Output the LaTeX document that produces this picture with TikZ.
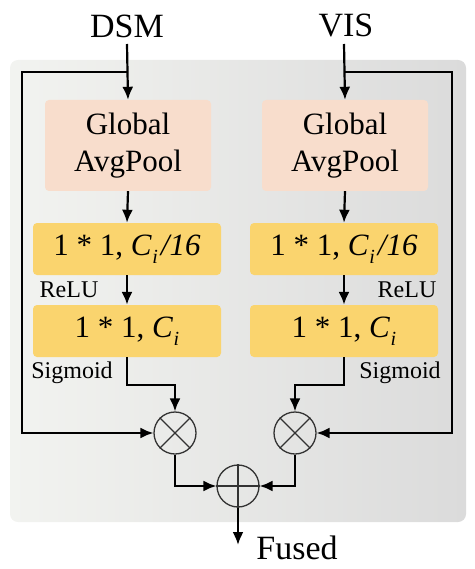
\documentclass[tikz,border=0pt]{standalone}
\usepackage{fontspec}
\setmainfont{Liberation Serif}
\usetikzlibrary{arrows.meta}
\definecolor{peach}{HTML}{F8DDCC}
\definecolor{ylw}{HTML}{FAD46E}
\definecolor{bgl}{HTML}{F2F3F0}
\definecolor{bgr}{HTML}{DBDBDB}
\tikzset{
  gapbox/.style={draw=none,fill=peach,rounded corners=4pt,minimum width=166pt,minimum height=91pt,align=center,font=\fontsize{31}{37}\selectfont},
  convbox/.style={draw=none,fill=ylw,rounded corners=4pt,minimum width=188pt,minimum height=52pt,font=\fontsize{31}{37}\selectfont},
  opcirc/.style={circle,draw=black!80,line width=1.3pt,minimum size=42pt,inner sep=0pt},
  conn/.style={line width=2.2pt,-{Latex[length=13pt,width=11pt]}},
  iotext/.style={font=\fontsize{34}{40}\selectfont},
  acttext/.style={font=\fontsize{24}{28}\selectfont}
}
\newcommand{\Ci}{\textit{C}\kern0.5pt\raisebox{-0.25em}{\fontsize{20}{20}\selectfont\textit{i}}}
\begin{document}
\begin{tikzpicture}[x=1pt,y=-1pt]
\useasboundingbox (0,0) rectangle (474,569);
\shade[left color=bgl,right color=bgr,rounded corners=8pt] (10,60) rectangle (466,522);
% inputs
\node[iotext] (dsm) at (127,26) {DSM};
\node[iotext] (vis) at (346,26) {VIS};
% boxes
\node[gapbox] (gl) at (128,145.5) {Global\\AvgPool};
\node[gapbox] (gr) at (345,145.5) {Global\\AvgPool};
\node[convbox] (c1l) at (127,249) {1 * 1, \Ci\kern3pt\textit{/16}};
\node[convbox] (c1r) at (344,249) {1 * 1, \Ci\kern3pt\textit{/16}};
\node[convbox] (c2l) at (127,331) {1 * 1, \Ci};
\node[convbox] (c2r) at (344,331) {1 * 1, \Ci};
\node[acttext] (relul) at (69,290) {ReLU};
\node[acttext] (relur) at (407,290) {ReLU};
\node[acttext] (sigl) at (72,373) {Sigmoid};
\node[acttext] (sigr) at (400,373) {Sigmoid};
% operators
\node[opcirc] (ml) at (175,433) {};
\node[opcirc] (mr) at (295,433) {};
\node[opcirc] (pl) at (238,486) {};
\draw[black!80,line width=1.3pt] (ml.north west) -- (ml.south east) (ml.north east) -- (ml.south west);
\draw[black!80,line width=1.3pt] (mr.north west) -- (mr.south east) (mr.north east) -- (mr.south west);
\draw[black!80,line width=1.3pt] (pl.north) -- (pl.south) (pl.west) -- (pl.east);
\node[iotext] (fused) at (297,548) {Fused};
\coordinate (out) at (238,545);
\coordinate (bl) at (127,72);
\coordinate (br) at (344,72);
\coordinate (tl) at (127,44);
\coordinate (tr) at (344,44);
% connectors
\draw[conn] (tl) -- (gl.north);
\draw[conn] (tr) -- (gr.north);
\draw[conn] (bl) -| (22,433) -- (ml.west);
\draw[conn] (br) -| (452,433) -- (mr.east);
\draw[conn] (gl.south) -- (c1l.north);
\draw[conn] (gr.south) -- (c1r.north);
\draw[conn] (c1l.south) -- (c2l.north);
\draw[conn] (c1r.south) -- (c2r.north);
\draw[conn] (c2l.south) |- (175,385) -- (ml.north);
\draw[conn] (c2r.south) |- (295,385) -- (mr.north);
\draw[conn] (ml.south) |- (pl.west);
\draw[conn] (mr.south) |- (pl.east);
\draw[conn] (pl.south) -- (out);
\end{tikzpicture}
\end{document}
